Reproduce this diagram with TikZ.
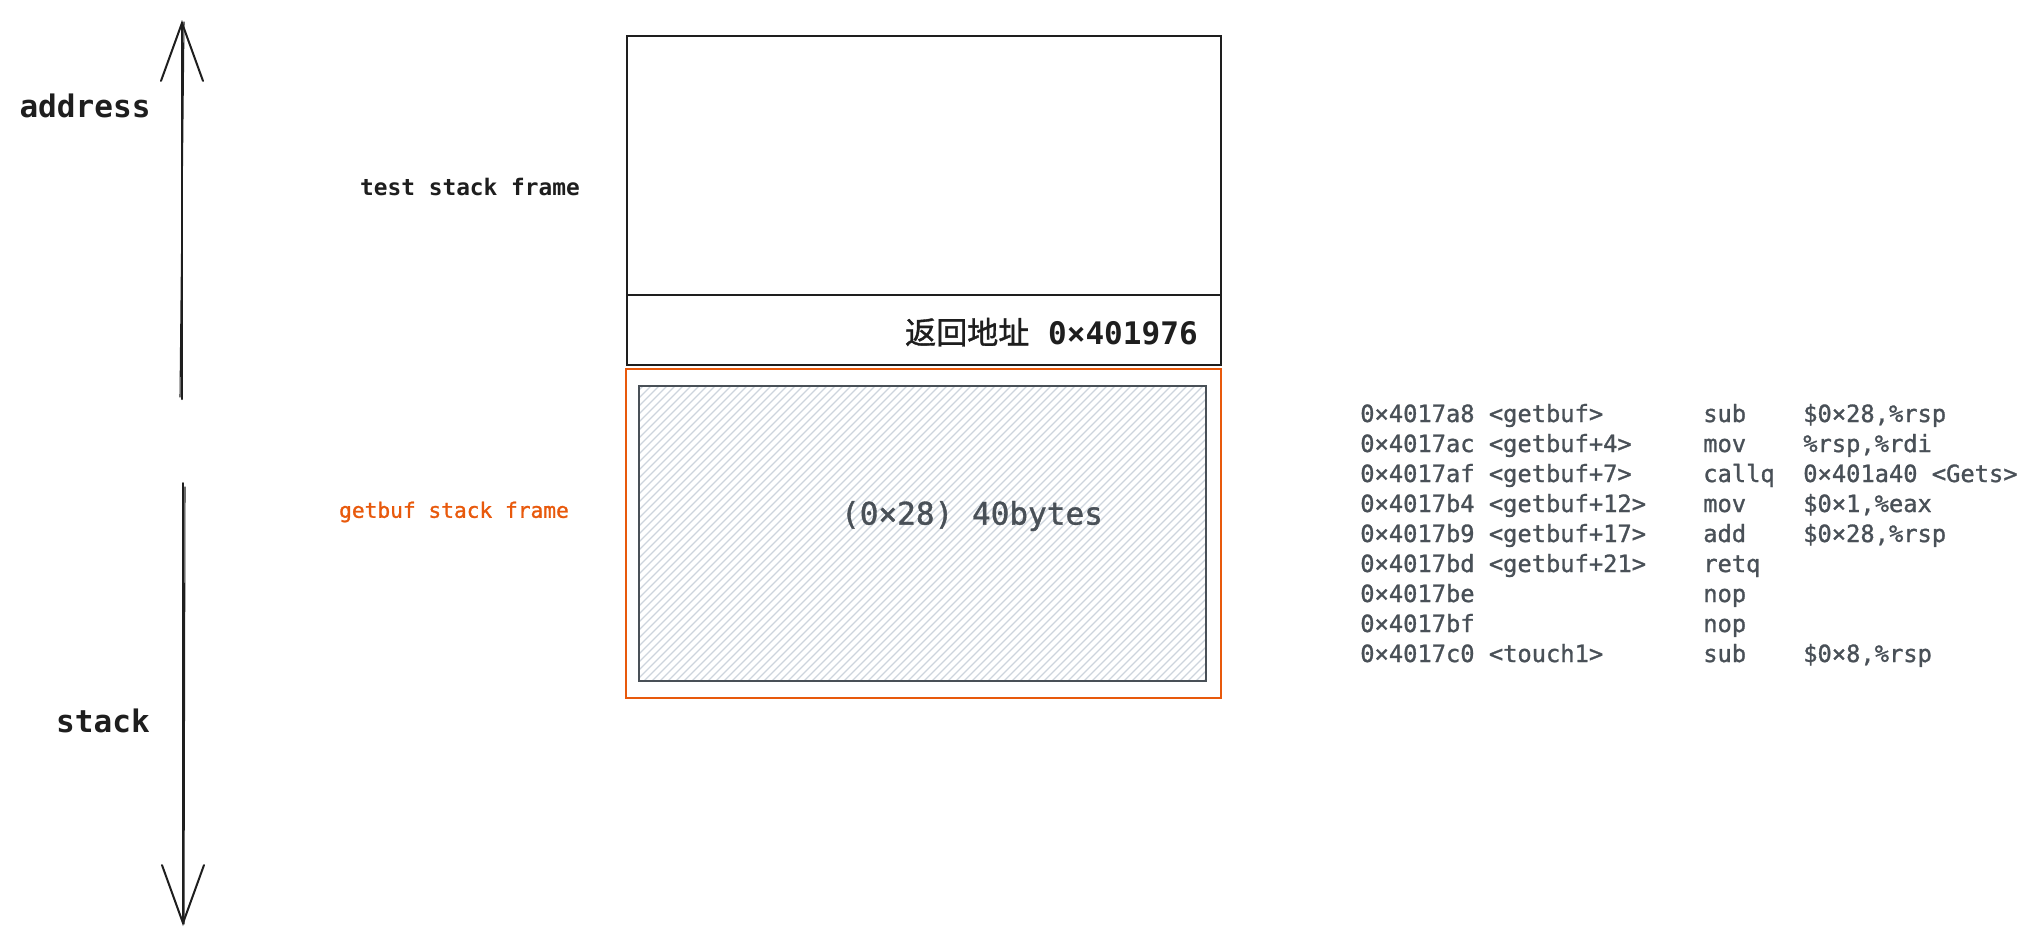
\documentclass[tikz,border=0pt]{standalone}
\usepackage{fontspec}
\setmonofont{DejaVu Sans Mono}
\newfontfamily\cjk[FakeBold=1.2]{Noto Sans CJK SC}
\newfontfamily\medmono[FakeBold=1.2]{DejaVu Sans Mono}
\usetikzlibrary{arrows.meta}
\definecolor{ink}{HTML}{1E1E1E}
\definecolor{orng}{HTML}{E8590C}
\definecolor{slate}{HTML}{495057}
\definecolor{hatchc}{HTML}{CDD4DD}
\newcommand{\bigmono}{\fontsize{23.3pt}{28pt}\selectfont\ttfamily\bfseries}
\newcommand{\bytesfont}{\fontsize{23.3pt}{28pt}\selectfont\medmono}
\newcommand{\codefont}{\fontsize{17.8pt}{22.5pt}\selectfont\medmono}
\tikzset{
  sk/.style={draw=ink, line width=1.5pt, line cap=round, line join=round},
  skthin/.style={draw=ink, line width=0.8pt, line cap=round},
  tip/.style={-{Straight Barb[length=43.5pt,width=31.5pt,line cap=round]}},
  boxline/.style={draw=ink, line width=1.4pt},
  lbl/.style={inner sep=0pt, text=ink},
  coderow/.style={anchor=base west, inner sep=0pt, text=slate, font=\codefont},
}
\begin{document}
\begin{tikzpicture}[x=0.75pt, y=-0.75pt]
\useasboundingbox (0,0) rectangle (2037,947);

% address / stack arrows
\coordinate (ua) at (182,399);
\coordinate (ub) at (182,20);
\coordinate (ua2) at (180,397);
\coordinate (ub2) at (184,22);
\draw[sk, tip] (ua) -- (ub);
\draw[skthin] (ua2) -- (ub2);

\coordinate (da) at (183,483);
\coordinate (db) at (183,926);
\coordinate (da2) at (185,487);
\coordinate (db2) at (184,924);
\draw[sk, tip] (da) -- (db);
\draw[skthin] (da2) -- (db2);

\node[lbl, font=\bigmono] (addr) at (85,106) {address};
\node[lbl, font=\bigmono] (stk) at (103,721) {stack};

% stack frame labels
\node[lbl, font=\fontsize{17.1pt}{20pt}\selectfont\ttfamily\bfseries] (testlbl) at (470,187) {test stack frame};
\node[lbl, text=orng, font=\fontsize{15.9pt}{19pt}\selectfont\medmono] (getlbl) at (454,512) {getbuf stack frame};

% test frame box
\coordinate (tnw) at (627,36);
\coordinate (tse) at (1221,365);
\coordinate (divl) at (627,295);
\coordinate (divr) at (1221,295);
\draw[boxline] (tnw) rectangle (tse);
\draw[boxline] (divl) -- (divr);
\node[lbl, anchor=base east, font=\bigmono] (ret) at (1198,344) {{\cjk\mdseries 返回地址} 0×401976};

% getbuf frame box
\coordinate (gnw) at (626,369);
\coordinate (gse) at (1221,698);
\draw[draw=orng, line width=1.1pt] (gnw) rectangle (gse);

% hatched buffer
\coordinate (bnw) at (639,386);
\coordinate (bse) at (1206,681);
\begin{scope}
  \clip (bnw) rectangle (bse);
  \foreach \x in {340,348,...,1210}
    \draw[hatchc, line width=0.9pt] (\x,681) -- ++(300,-300);
\end{scope}
\draw[draw=slate, line width=1.5pt] (bnw) rectangle (bse);
\node[lbl, text=slate, font=\bytesfont] (bytes) at (972,516) {(0×28) 40bytes};

% disassembly
\node[coderow] (c1) at (1360,422) {\makebox[257.25pt][l]{0×4017a8 <getbuf>}\makebox[75pt][l]{sub}\$0×28,\%rsp};
\node[coderow] (c2) at (1360,452) {\makebox[257.25pt][l]{0×4017ac <getbuf+4>}\makebox[75pt][l]{mov}\%rsp,\%rdi};
\node[coderow] (c3) at (1360,482) {\makebox[257.25pt][l]{0×4017af <getbuf+7>}\makebox[75pt][l]{callq}0×401a40 <Gets>};
\node[coderow] (c4) at (1360,512) {\makebox[257.25pt][l]{0×4017b4 <getbuf+12>}\makebox[75pt][l]{mov}\$0×1,\%eax};
\node[coderow] (c5) at (1360,542) {\makebox[257.25pt][l]{0×4017b9 <getbuf+17>}\makebox[75pt][l]{add}\$0×28,\%rsp};
\node[coderow] (c6) at (1360,572) {\makebox[257.25pt][l]{0×4017bd <getbuf+21>}\makebox[75pt][l]{retq}};
\node[coderow] (c7) at (1360,602) {\makebox[257.25pt][l]{0×4017be}\makebox[75pt][l]{nop}};
\node[coderow] (c8) at (1360,632) {\makebox[257.25pt][l]{0×4017bf}\makebox[75pt][l]{nop}};
\node[coderow] (c9) at (1360,662) {\makebox[257.25pt][l]{0×4017c0 <touch1>}\makebox[75pt][l]{sub}\$0×8,\%rsp};
\end{tikzpicture}
\end{document}
